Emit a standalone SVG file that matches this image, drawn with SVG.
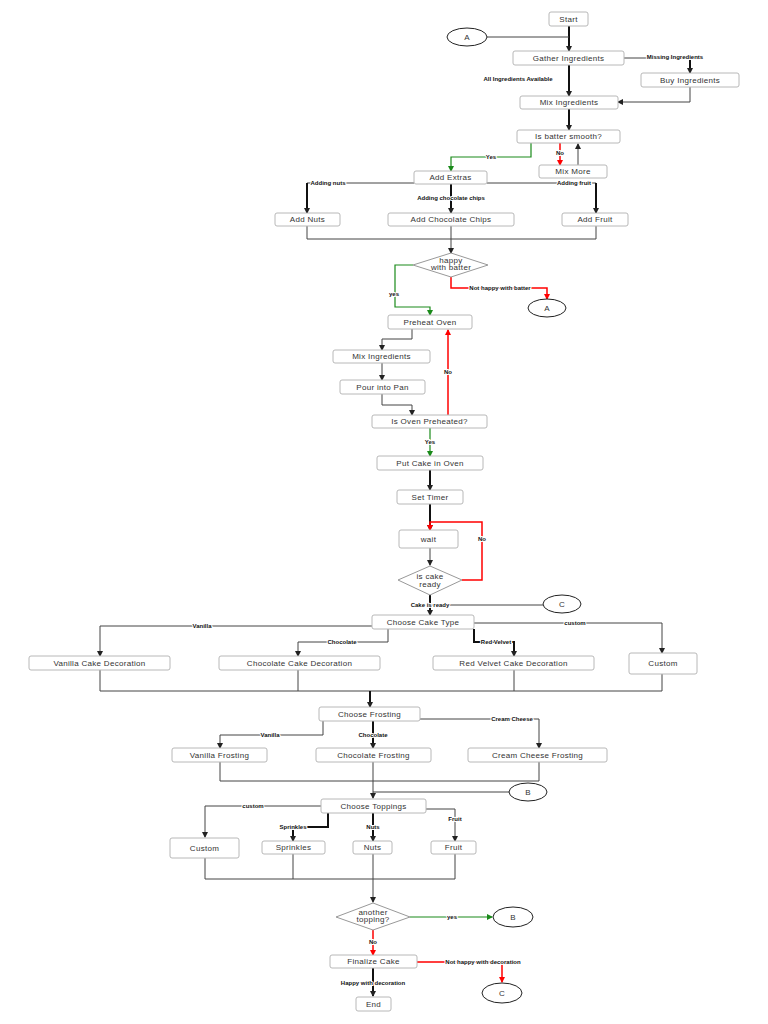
<svg xmlns="http://www.w3.org/2000/svg" width="768" height="1024" viewBox="0 0 768 1024">
<style>
.n rect{fill:#fff;stroke:#b8b8b8;stroke-width:1}
.n polygon{fill:#fff;stroke:#999;stroke-width:1}
.n ellipse{fill:#fff;stroke:#222;stroke-width:1}
.n text{font-family:"Liberation Sans",Arial,sans-serif;font-size:8px;fill:#333;text-anchor:middle;letter-spacing:0.3px}
.c path{fill:none;stroke:#444;stroke-width:1}
.c .t{stroke:#111;stroke-width:2}
.c .r{stroke:#f00;stroke-width:1.5}
.c .g{stroke:#1a8a1a;stroke-width:1.2}
.l text{font-family:"Liberation Sans",Arial,sans-serif;font-size:6px;fill:#111;text-anchor:middle;font-weight:bold;stroke:#fff;stroke-width:2px;paint-order:stroke}
</style>
<defs>
<marker id="ak" markerWidth="6" markerHeight="6" refX="5" refY="3" orient="auto" markerUnits="userSpaceOnUse"><path d="M0,0L6,3L0,6z" fill="#222"/></marker>
<marker id="ar" markerWidth="6" markerHeight="6" refX="5" refY="3" orient="auto" markerUnits="userSpaceOnUse"><path d="M0,0L6,3L0,6z" fill="#f00"/></marker>
<marker id="ag" markerWidth="6" markerHeight="6" refX="5" refY="3" orient="auto" markerUnits="userSpaceOnUse"><path d="M0,0L6,3L0,6z" fill="#1a8a1a"/></marker>
</defs>
<g class="c">
<path class="t" d="M569,26V51" marker-end="url(#ak)"/>
<path d="M487,37H569"/>
<path d="M624,58H690"/>
<path class="t" d="M690,58V73" marker-end="url(#ak)"/>
<path class="t" d="M569,65V96" marker-end="url(#ak)"/>
<path d="M690,87V102H618" marker-end="url(#ak)"/>
<path class="t" d="M569,108V130" marker-end="url(#ak)"/>
<path class="g" d="M531,143V157H451V171" marker-end="url(#ag)"/>
<path class="r" d="M560,143V165" marker-end="url(#ar)"/>
<path d="M578,165V144" marker-end="url(#ak)"/>
<path d="M414,183H307"/>
<path class="t" d="M307,183V213" marker-end="url(#ak)"/>
<path d="M487,183H596"/>
<path class="t" d="M596,183V213" marker-end="url(#ak)"/>
<path class="t" d="M451,184V213" marker-end="url(#ak)"/>
<path d="M307,226V239H596V226"/>
<path d="M451,226V253" marker-end="url(#ak)"/>
<path class="g" d="M413,265H395V307H430V315" marker-end="url(#ag)"/>
<path class="r" d="M451,277V288H547V299" marker-end="url(#ar)"/>
<path d="M412,329V339H382V350" marker-end="url(#ak)"/>
<path d="M382,363V380" marker-end="url(#ak)"/>
<path d="M382,394V405H412V415" marker-end="url(#ak)"/>
<path class="r" d="M448,416V330" marker-end="url(#ar)"/>
<path class="g" d="M430,428V456" marker-end="url(#ag)"/>
<path class="t" d="M430,470V490" marker-end="url(#ak)"/>
<path class="t" d="M430,504V530" marker-end="url(#ak)"/>
<path class="r" d="M462,580H482V522H430V530" marker-end="url(#ar)"/>
<path d="M430,548V565" marker-end="url(#ak)"/>
<path d="M543,605H430"/>
<path class="t" d="M430,595V615" marker-end="url(#ak)"/>
<path d="M372,626H100V656" marker-end="url(#ak)"/>
<path d="M388,629V642H298V656" marker-end="url(#ak)"/>
<path class="t" d="M474,629V642H514V656" marker-end="url(#ak)"/>
<path d="M474,623H662V653" marker-end="url(#ak)"/>
<path d="M100,670V691H662V674M298,670V691M514,670V691"/>
<path class="t" d="M370,691V707" marker-end="url(#ak)"/>
<path d="M323,721V735H220V748" marker-end="url(#ak)"/>
<path class="t" d="M373,721V748" marker-end="url(#ak)"/>
<path d="M420,719H539V748" marker-end="url(#ak)"/>
<path d="M220,762V781H539V762"/>
<path d="M373,762V798" marker-end="url(#ak)"/>
<path d="M509,792H373"/>
<path d="M321,806H205V837" marker-end="url(#ak)"/>
<path class="t" d="M328,813V827H293V841" marker-end="url(#ak)"/>
<path class="t" d="M373,813V841" marker-end="url(#ak)"/>
<path d="M426,809H455V841" marker-end="url(#ak)"/>
<path d="M205,858V879H455V854M293,854V879"/>
<path d="M373,854V902" marker-end="url(#ak)"/>
<path class="g" d="M410,917H492" marker-end="url(#ag)"/>
<path class="r" d="M373,930V955" marker-end="url(#ar)"/>
<path class="r" d="M417,962H502V982" marker-end="url(#ar)"/>
<path class="t" d="M373,968V996" marker-end="url(#ak)"/>
</g>
<g class="l">
<text x="675" y="59">Missing Ingredients</text>
<text x="518" y="81">All Ingredients Available</text>
<text x="491" y="159">Yes</text>
<text x="560" y="155">No</text>
<text x="328" y="185">Adding nuts</text>
<text x="574" y="185">Adding fruit</text>
<text x="451" y="200">Adding chocolate chips</text>
<text x="394" y="296">yes</text>
<text x="500" y="290">Not happy with batter</text>
<text x="448" y="374">No</text>
<text x="430" y="444">Yes</text>
<text x="482" y="541">No</text>
<text x="430" y="607">Cake is ready</text>
<text x="202" y="628">Vanilla</text>
<text x="342" y="644">Chocolate</text>
<text x="496" y="644">Red Velvet</text>
<text x="575" y="625">custom</text>
<text x="270" y="737">Vanilla</text>
<text x="373" y="737">Chocolate</text>
<text x="512" y="721">Cream Cheese</text>
<text x="253" y="808">custom</text>
<text x="293" y="829">Sprinkles</text>
<text x="373" y="829">Nuts</text>
<text x="455" y="821">Fruit</text>
<text x="452" y="919">yes</text>
<text x="373" y="944">No</text>
<text x="483" y="964">Not happy with decoration</text>
<text x="373" y="985">Happy with decoration</text>
</g>
<g id="start" class="n"><rect x="549" y="12" width="39" height="14" rx="2"/><text x="568.5" y="22">Start</text></g>
<g id="a1" class="n"><ellipse cx="467" cy="37" rx="20" ry="9"/><text x="467" y="40">A</text></g>
<g id="gather" class="n"><rect x="513" y="51" width="111" height="14" rx="2"/><text x="568.5" y="61">Gather Ingredients</text></g>
<g id="buy" class="n"><rect x="641" y="73" width="98" height="14" rx="2"/><text x="690" y="83">Buy Ingredients</text></g>
<g id="mix1" class="n"><rect x="520" y="96" width="98" height="13" rx="2"/><text x="569" y="105">Mix Ingredients</text></g>
<g id="smooth" class="n"><rect x="517" y="130" width="103" height="13" rx="2"/><text x="568.5" y="139">Is batter smooth?</text></g>
<g id="mixmore" class="n"><rect x="539" y="165" width="68" height="13" rx="2"/><text x="573" y="174">Mix More</text></g>
<g id="extras" class="n"><rect x="414" y="171" width="73" height="13" rx="2"/><text x="450.5" y="180">Add Extras</text></g>
<g id="nuts1" class="n"><rect x="275" y="213" width="65" height="13" rx="2"/><text x="307.5" y="222">Add Nuts</text></g>
<g id="chips" class="n"><rect x="388" y="213" width="126" height="13" rx="2"/><text x="451" y="222">Add Chocolate Chips</text></g>
<g id="fruit1" class="n"><rect x="562" y="213" width="66" height="13" rx="2"/><text x="595" y="222">Add Fruit</text></g>
<g id="happy" class="n"><polygon points="451,253 488,265 451,277 413,265"/><text x="451" y="263">happy</text><text x="451" y="270">with batter</text></g>
<g id="a2" class="n"><ellipse cx="547" cy="308" rx="19" ry="9"/><text x="547" y="311">A</text></g>
<g id="preheat" class="n"><rect x="388" y="315" width="84" height="14" rx="2"/><text x="430" y="325">Preheat Oven</text></g>
<g id="mix2" class="n"><rect x="333" y="350" width="97" height="13" rx="2"/><text x="381.5" y="359">Mix Ingredients</text></g>
<g id="pour" class="n"><rect x="340" y="380" width="85" height="14" rx="2"/><text x="382.5" y="390">Pour into Pan</text></g>
<g id="ovenq" class="n"><rect x="372" y="415" width="115" height="13" rx="2"/><text x="429.5" y="424">Is Oven Preheated?</text></g>
<g id="put" class="n"><rect x="377" y="456" width="106" height="14" rx="2"/><text x="430" y="466">Put Cake in Oven</text></g>
<g id="timer" class="n"><rect x="397" y="490" width="66" height="14" rx="2"/><text x="430" y="500">Set Timer</text></g>
<g id="wait" class="n"><rect x="399" y="530" width="59" height="18" rx="2"/><text x="428.5" y="542">wait</text></g>
<g id="ready" class="n"><polygon points="430,566 462,580 430,595 398,580"/><text x="430" y="579">is cake</text><text x="430" y="587">ready</text></g>
<g id="c1" class="n"><ellipse cx="562" cy="604" rx="19" ry="9"/><text x="562" y="607">C</text></g>
<g id="caketype" class="n"><rect x="372" y="615" width="102" height="14" rx="2"/><text x="423" y="625">Choose Cake Type</text></g>
<g id="vdec" class="n"><rect x="29" y="656" width="141" height="14" rx="2"/><text x="99.5" y="666">Vanilla Cake Decoration</text></g>
<g id="cdec" class="n"><rect x="219" y="656" width="161" height="14" rx="2"/><text x="299.5" y="666">Chocolate Cake Decoration</text></g>
<g id="rdec" class="n"><rect x="433" y="656" width="161" height="14" rx="2"/><text x="513.5" y="666">Red Velvet Cake Decoration</text></g>
<g id="custom1" class="n"><rect x="629" y="653" width="68" height="21" rx="2"/><text x="663" y="666">Custom</text></g>
<g id="frost" class="n"><rect x="319" y="707" width="101" height="14" rx="2"/><text x="369.5" y="717">Choose Frosting</text></g>
<g id="vfrost" class="n"><rect x="172" y="748" width="95" height="14" rx="2"/><text x="219.5" y="758">Vanilla Frosting</text></g>
<g id="cfrost" class="n"><rect x="316" y="748" width="115" height="14" rx="2"/><text x="373.5" y="758">Chocolate Frosting</text></g>
<g id="ccfrost" class="n"><rect x="468" y="748" width="139" height="14" rx="2"/><text x="537.5" y="758">Cream Cheese Frosting</text></g>
<g id="b1" class="n"><ellipse cx="528" cy="792" rx="19" ry="9"/><text x="528" y="795">B</text></g>
<g id="toppings" class="n"><rect x="321" y="799" width="105" height="14" rx="2"/><text x="373.5" y="809">Choose Toppings</text></g>
<g id="custom2" class="n"><rect x="170" y="838" width="69" height="20" rx="2"/><text x="204.5" y="851">Custom</text></g>
<g id="sprinkles" class="n"><rect x="262" y="841" width="63" height="13" rx="2"/><text x="293.5" y="850">Sprinkles</text></g>
<g id="nuts2" class="n"><rect x="353" y="841" width="39" height="13" rx="2"/><text x="372.5" y="850">Nuts</text></g>
<g id="fruit2" class="n"><rect x="431" y="841" width="45" height="13" rx="2"/><text x="453.5" y="850">Fruit</text></g>
<g id="another" class="n"><polygon points="373,903 410,917 373,930 336,917"/><text x="373" y="915">another</text><text x="373" y="922">topping?</text></g>
<g id="b2" class="n"><ellipse cx="513" cy="917" rx="20" ry="10"/><text x="513" y="920">B</text></g>
<g id="finalize" class="n"><rect x="330" y="955" width="87" height="13" rx="2"/><text x="373.5" y="964">Finalize Cake</text></g>
<g id="c2" class="n"><ellipse cx="502" cy="993" rx="20" ry="10"/><text x="502" y="996">C</text></g>
<g id="end" class="n"><rect x="356" y="997" width="35" height="14" rx="2"/><text x="373.5" y="1007">End</text></g>
</svg>
